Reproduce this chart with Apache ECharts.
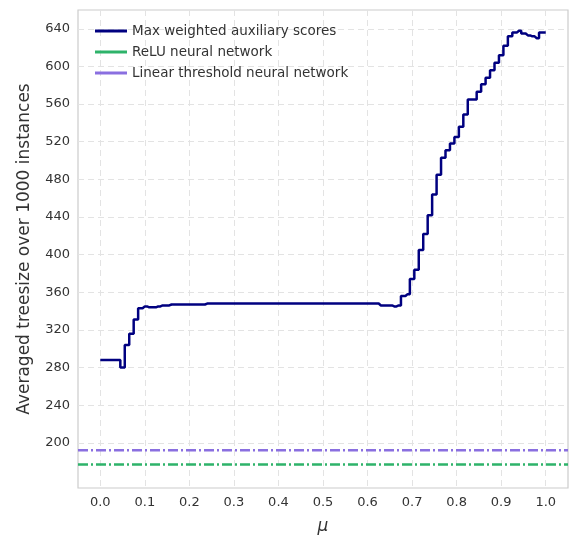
<!DOCTYPE html><html><head><meta charset="utf-8"><script src="https://cdn.jsdelivr.net/npm/echarts@6/dist/echarts.min.js"></script></head><body style="margin:0"><div id="c" style="width:573px;height:540px"></div><script>
const mu=[];for(let i=0;i<=100;i++)mu.push(+(i/100).toFixed(2));
const scores=[288,288,288,288,288,280,304,316,331,343,345,344,344,345,346,346,347,347,347,347,347,347,347,347,348,348,348,348,348,348,348,348,348,348,348,348,348,348,348,348,348,348,348,348,348,348,348,348,348,348,348,348,348,348,348,348,348,348,348,348,348,348,348,346,346,346,345,346,356,358,374,384,405,422,442,464,485,503,511,518,525,536,549,565,565,573,581,588,596,604,612,622,632,636,638,635,633,632,630,636,636];
const reluValue=177, linearValue=192;
const xTicks=[0,0.1,0.2,0.3,0.4,0.5,0.6,0.7,0.8,0.9,1.0];
const yTicks=[200,240,280,320,360,400,440,480,520,560,600,640];
const font='DejaVu Sans';
const c=echarts.init(document.getElementById('c'));
const flat=v=>[[-0.05,v],[1.05,v]];
c.setOption({animation:false,
grid:{left:78,right:5,top:10,bottom:52,show:true,borderColor:'#ccc',borderWidth:1.2},
legend:{left:90,top:19,orient:'vertical',itemGap:7,itemWidth:32,itemHeight:3,textStyle:{fontFamily:font,fontSize:13.5,color:'#333'},
 data:[{name:'Max weighted auxiliary scores',icon:'rect'},{name:'ReLU neural network',icon:'rect'},{name:'Linear threshold neural network',icon:'rect'}]},
xAxis:{type:'value',min:-0.05,max:1.05,name:'μ',nameLocation:'middle',nameGap:30,nameTextStyle:{fontFamily:font,fontSize:17,fontStyle:'italic',color:'#333'},
 axisLine:{show:false},axisTick:{show:false,customValues:xTicks},
 axisLabel:{customValues:xTicks,formatter:v=>v.toFixed(1),fontFamily:font,fontSize:13,color:'#333'},
 splitLine:{show:true,lineStyle:{type:[6,4],color:'#e3e3e3'}}},
yAxis:{type:'value',min:152,max:660,name:'Averaged treesize over 1000 instances',nameLocation:'middle',nameGap:45,nameTextStyle:{fontFamily:font,fontSize:17,color:'#333'},
 axisLine:{show:false},axisTick:{show:false,customValues:yTicks},
 axisLabel:{customValues:yTicks,fontFamily:font,fontSize:13,color:'#333'},
 splitLine:{show:true,lineStyle:{type:[6,4],color:'#e3e3e3'}}},
series:[
{name:'Max weighted auxiliary scores',type:'line',step:'middle',showSymbol:false,data:mu.map((m,i)=>[m,scores[i]]),lineStyle:{color:'#000080',width:2.5},itemStyle:{color:'#000080'},z:5},
{name:'ReLU neural network',type:'line',showSymbol:false,data:flat(reluValue),lineStyle:{color:'#2eb36a',width:2.5,type:[10,3,2,3]},itemStyle:{color:'#2eb36a'}},
{name:'Linear threshold neural network',type:'line',showSymbol:false,data:flat(linearValue),lineStyle:{color:'#8a6fe0',width:2.5,type:[10,3,2,3]},itemStyle:{color:'#8a6fe0'}}
]});
</script></body></html>
